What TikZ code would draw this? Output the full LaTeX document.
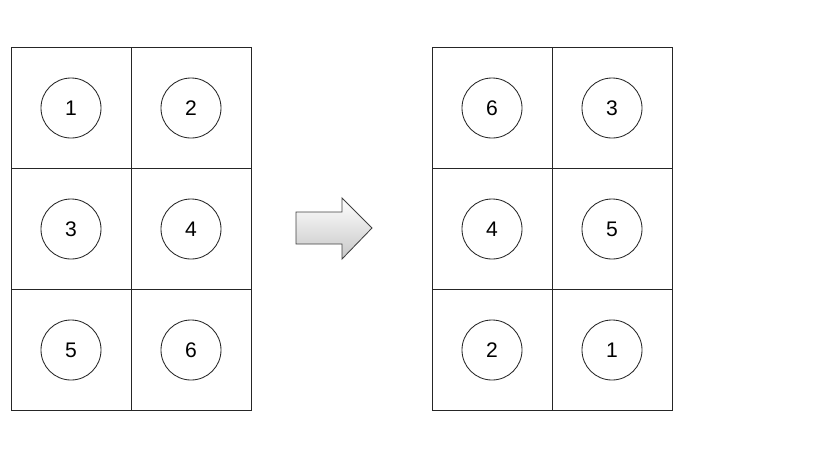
\documentclass[tikz,border=0pt]{standalone}
\usepackage{fontspec}
\setmainfont{Liberation Sans}
\tikzset{cell/.style={draw=black!85,line width=0.6pt,minimum width=3cm,minimum height=3.025cm,inner sep=0pt}}
\tikzset{dot/.style={draw=black!85,line width=0.6pt,circle,minimum size=1.5cm,inner sep=0pt,font=\fontsize{15}{17}\selectfont}}
\tikzset{bigarrow/.style={draw=black!75,line width=0.6pt,shading=axis,top color=white,bottom color=black!22}}

\begin{document}
\begin{tikzpicture}[x=0.025cm,y=-0.025cm]
                \useasboundingbox (0,0) rectangle (816,449);
                % left grid
                \foreach \num [count=\i from 0] in {1,2,3,4,5,6} {
                    \pgfmathtruncatemacro{\col}{mod(\i,2)}
                    \pgfmathtruncatemacro{\row}{div(\i,2)}
                    \node[cell] (l\num) at (71+120*\col,108+121*\row) {};
                    \node[dot] (a\num) at (l\num) {\num};
                }
                % right grid
                \foreach \num [count=\i from 0] in {6,3,4,5,2,1} {
                    \pgfmathtruncatemacro{\col}{mod(\i,2)}
                    \pgfmathtruncatemacro{\row}{div(\i,2)}
                    \node[cell] (r\num) at (492+120*\col,108+121*\row) {};
                    \node[dot] (b\num) at (r\num) {\num};
                }
                % arrow
                \path[bigarrow] (296,212) -- (342,212) -- (342,198) -- (372,228)
                    -- (342,259) -- (342,244) -- (296,244) -- cycle;
            \end{tikzpicture}
\end{document}
